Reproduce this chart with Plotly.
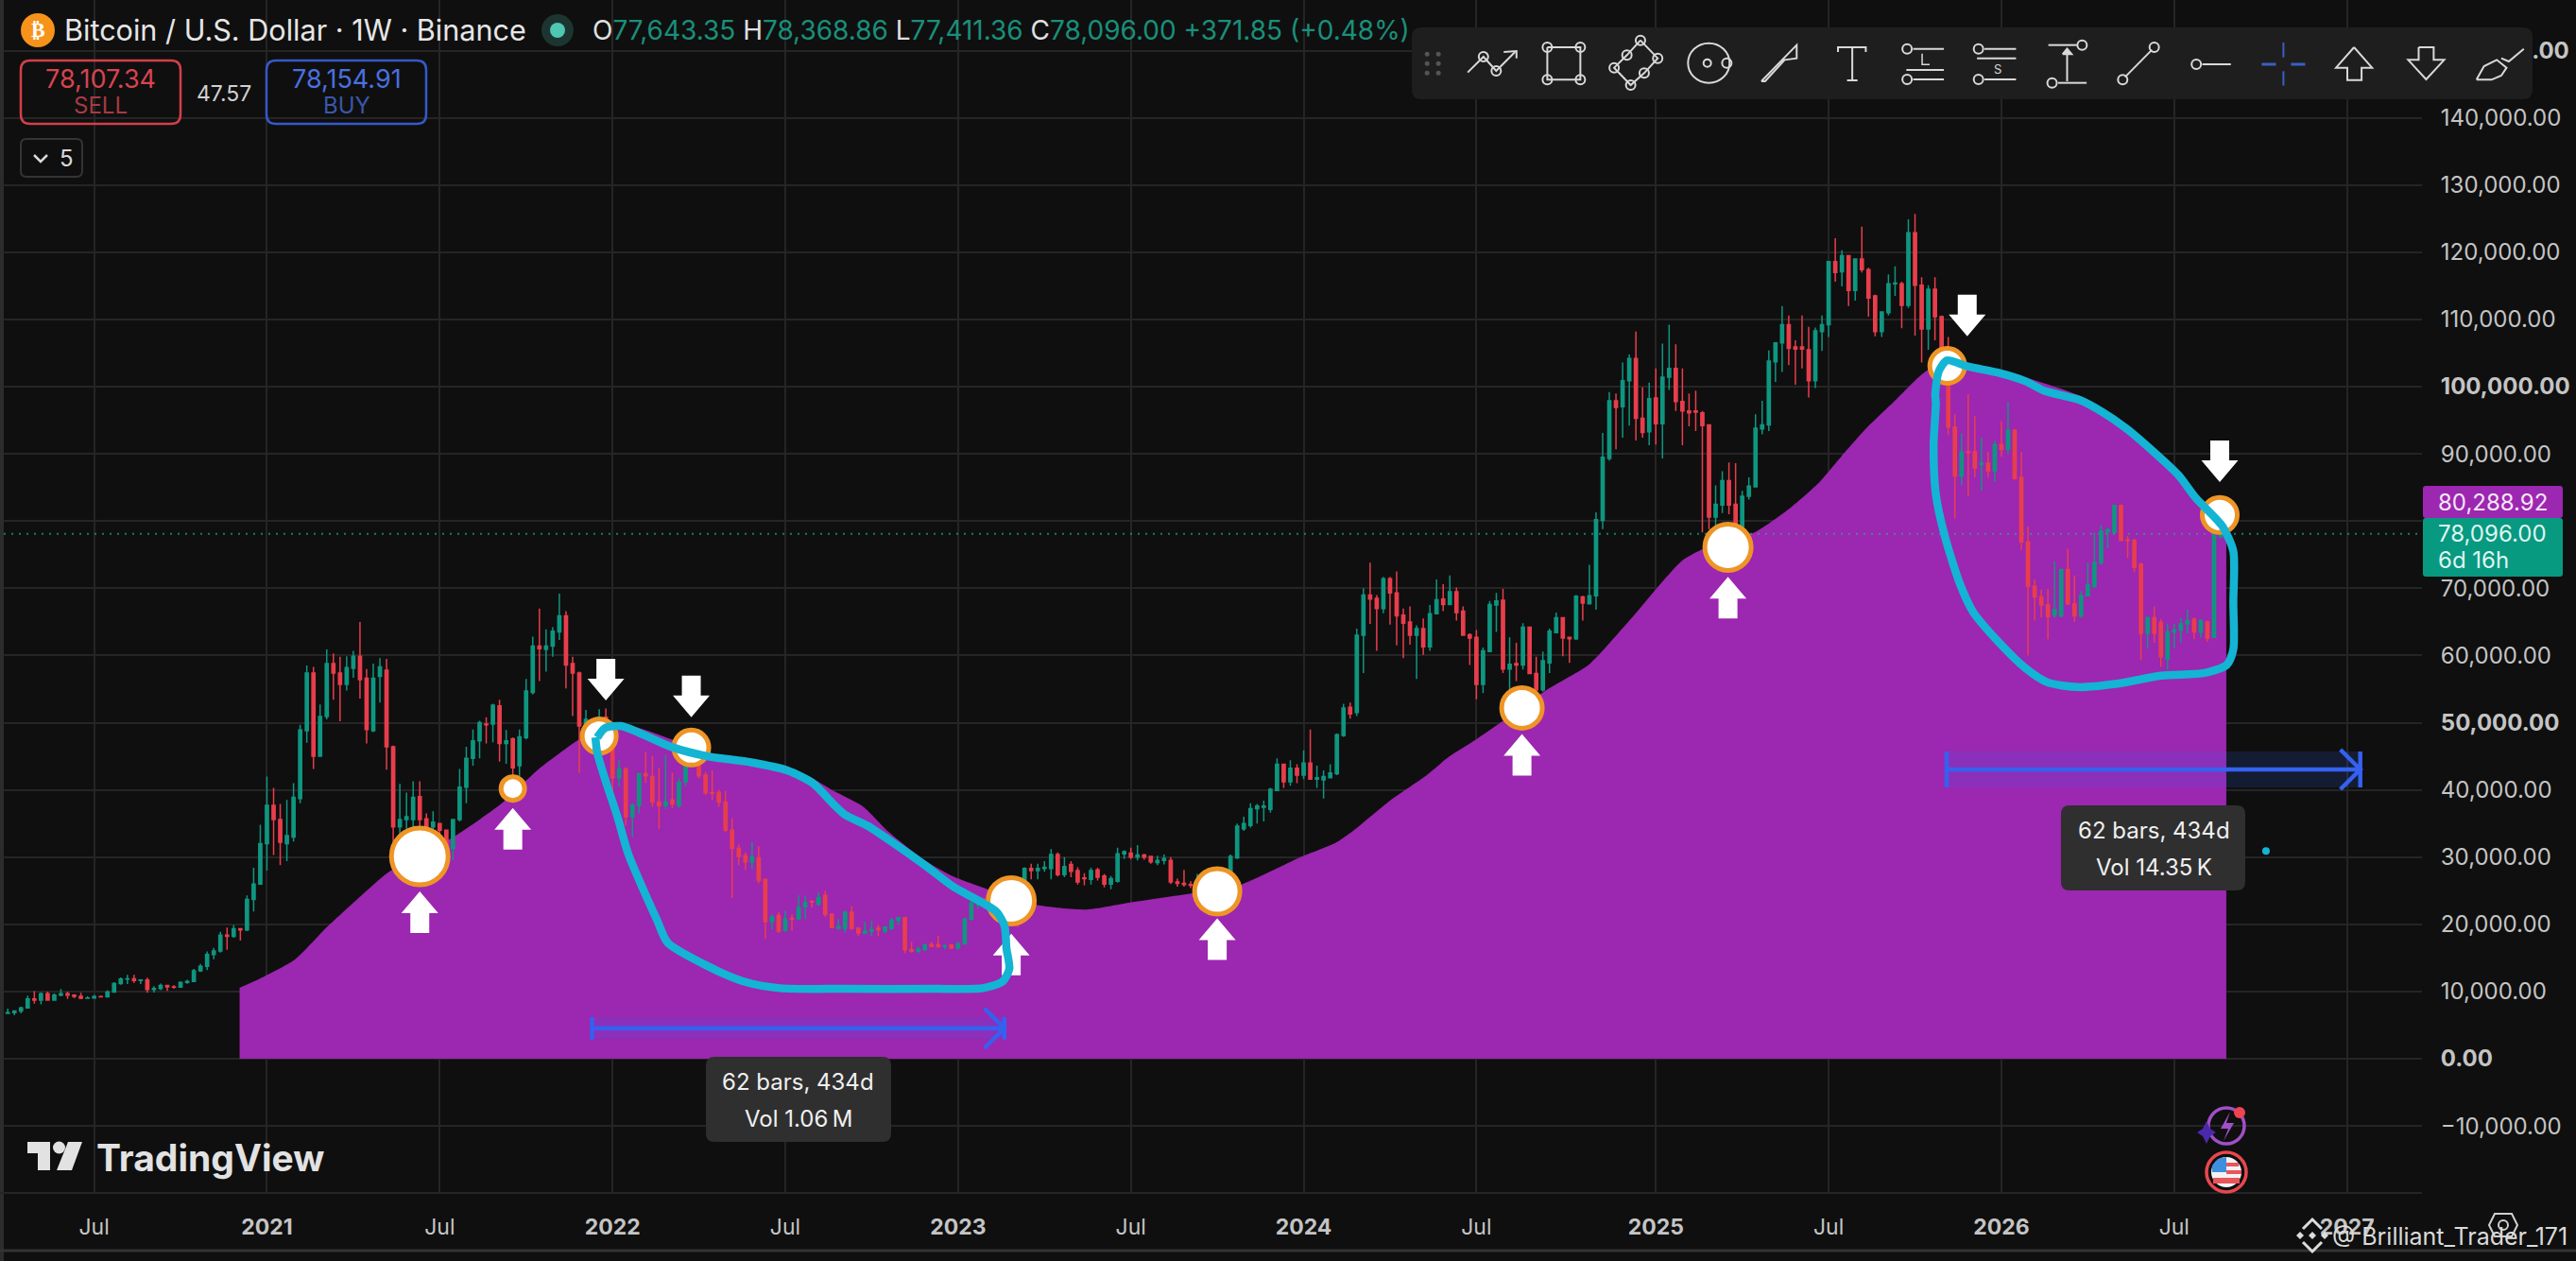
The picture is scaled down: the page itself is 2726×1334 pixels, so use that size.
import pandas as pd
import plotly.graph_objects as go

W, H = 2726, 1334

# weekly candles, thousands of USD, first bar is the week of 2020-04-06
first_bar = "2020-04-06"
opens = [
    6.77, 6.86, 7.12, 7.55, 8.9, 8.72, 9.68, 8.72, 9.45, 9.67,
    9.45, 9.3, 9.0, 9.05, 9.25, 9.2, 9.93, 11.2, 11.85, 11.9,
    11.65, 11.7, 10.3, 10.45, 10.9, 10.7, 10.65, 11.35, 11.5, 13.1,
    13.75, 15.5, 16.05, 18.4, 18.2, 19.35, 19.15, 23.7, 26.0,
    32.0, 37.7, 35.6, 32.0, 33.0, 38.7, 48.8, 57.4, 45.0, 50.9,
    58.8, 57.4, 55.7, 58.1, 59.9, 56.6, 48.8, 56.9, 57.8, 46.4,
    34.5, 35.6, 35.6, 39.0, 35.7, 34.5, 35.0, 34.0, 31.3, 35.6,
    40.4, 44.7, 47.3, 49.8, 49.8, 52.5, 46.9, 47.6, 43.6, 47.8,
    54.5, 61.4, 60.9, 61.4, 63.5, 65.9, 58.8, 57.4, 49.4, 50.5,
    46.7, 50.8, 47.3, 41.8, 43.1, 36.0, 37.7, 42.4, 42.0, 38.2,
    37.7, 38.5, 37.7, 41.2, 46.8, 45.6, 42.2, 39.6, 39.6, 38.2,
    34.0, 31.3, 30.2, 29.3, 29.9, 26.7, 20.4, 21.3, 19.1, 20.9,
    20.8, 22.6, 23.4, 23.0, 24.3, 21.5, 19.4, 19.4, 21.8, 19.4,
    18.7, 19.0, 19.4, 19.0, 19.4, 20.6, 21.0, 16.2, 16.0, 16.3,
    17.0, 17.0, 16.7, 16.9, 16.5, 17.1, 20.8, 22.9, 23.7, 23.3,
    21.8, 24.6, 23.2, 22.4, 20.6, 28.3, 28.0, 28.3, 28.3, 30.4,
    27.4, 28.9, 28.0, 26.9, 26.7, 28.1, 27.2, 26.0, 26.4, 30.5,
    30.6, 30.0, 30.3, 30.1, 29.2, 29.5, 29.5, 26.3, 26.1, 25.9,
    26.0, 26.5, 26.3, 26.9, 27.9, 26.9, 29.9, 34.2, 34.7, 37.2,
    37.4, 37.1, 39.9, 43.8, 41.2, 43.2, 42.2, 44.0, 41.6, 41.5,
    41.8, 42.4, 48.1, 52.3, 51.5, 63.0, 69.0, 68.5, 67.0, 71.4,
    69.3, 66.0, 65.0, 63.0, 64.0, 61.3, 66.2, 68.4, 67.6, 69.5,
    66.6, 63.1, 62.7, 55.7, 60.6, 67.5, 68.2, 58.0, 58.8, 58.6,
    64.2, 57.3, 54.9, 58.9, 63.4, 65.6, 62.7, 62.5, 68.7, 67.7,
    68.9, 80.1, 89.3, 97.9, 97.0, 100.9, 104.2, 95.3, 93.3, 98.3,
    94.5, 101.4, 102.7, 97.8, 96.4, 96.4, 96.1, 94.3, 80.6, 82.4,
    86.0, 82.5, 78.0, 83.7, 85.1, 93.7, 94.3, 103.7, 106.5, 109.2,
    105.9, 105.9, 105.5, 100.9, 108.2, 109.2, 118.6, 117.1, 119.5, 114.3,
    119.0, 117.4, 113.5, 108.2, 111.0, 115.3, 115.3, 112.1, 122.9, 115.1,
    108.6, 114.5, 110.4, 105.7, 94.0, 86.7, 90.3, 90.3, 88.4, 88.6,
    87.5, 91.4, 90.7, 93.5, 86.5, 76.9, 70.3, 68.7, 67.5, 66.0,
    65.9, 72.8, 67.7, 65.9, 68.9, 70.3, 73.8, 78.4, 78.3, 82.3,
    77.2, 77.1, 73.6, 63.3, 65.6, 64.9, 59.5, 63.5, 63.8, 64.7,
    65.4, 63.5, 65.0, 62.7, 77.64335,
]
highs = [
    7.46, 7.2, 7.75, 9.4, 10.07, 9.9, 10.0, 9.74, 10.38, 10.0,
    9.6, 9.8, 9.3, 9.5, 9.4, 10.2, 11.4, 12.1, 12.5, 12.5,
    11.8, 12.05, 10.8, 11.2, 10.95, 10.95, 11.5, 11.75, 13.35, 14.1,
    15.96, 16.5, 18.9, 19.5, 19.9, 19.4, 24.3, 28.4, 34.8,
    42.0, 40.3, 37.9, 38.5, 41.0, 49.7, 58.5, 58.3, 52.7, 60.9,
    60.3, 59.8, 59.9, 60.7, 65.0, 58.0, 58.8, 59.6, 59.5, 46.6,
    40.9, 39.6, 41.3, 41.3, 36.5, 36.8, 35.1, 34.0, 35.6, 43.1,
    46.4, 49.0, 50.3, 50.8, 52.8, 53.4, 48.9, 47.8, 49.0, 56.5,
    62.8, 67.0, 63.9, 64.2, 69.2, 66.6, 59.8, 57.6, 51.9, 50.6,
    52.0, 52.1, 47.9, 44.4, 43.4, 38.0, 42.5, 45.7, 45.0, 43.3,
    45.2, 42.6, 41.7, 47.5, 48.2, 47.1, 42.7, 42.9, 40.0, 39.8,
    35.8, 31.9, 30.7, 32.2, 31.6, 26.8, 21.5, 21.8, 22.0, 21.5,
    24.3, 24.3, 23.6, 24.8, 25.0, 21.7, 20.8, 22.0, 22.7, 19.6,
    20.4, 20.5, 19.9, 19.7, 21.0, 21.1, 21.1, 17.4, 16.7, 17.2,
    17.4, 18.3, 17.0, 17.0, 17.4, 21.0, 23.8, 23.9, 24.0, 23.4,
    25.0, 25.2, 23.9, 22.6, 28.5, 29.0, 29.0, 29.4, 31.2, 30.7,
    30.0, 29.4, 28.5, 27.6, 28.4, 28.4, 27.5, 27.2, 31.4, 31.0,
    31.4, 31.8, 30.5, 30.2, 30.2, 30.4, 30.0, 26.8, 28.1, 26.4,
    27.5, 27.4, 27.0, 28.6, 28.0, 30.4, 35.0, 36.0, 38.0, 37.9,
    38.4, 40.3, 44.7, 43.9, 44.4, 43.8, 45.9, 49.0, 43.6, 42.9,
    43.8, 48.4, 52.8, 53.0, 64.0, 70.0, 73.8, 69.0, 71.7, 71.7,
    72.5, 67.0, 67.3, 64.5, 65.5, 67.5, 71.3, 70.6, 71.9, 70.1,
    67.3, 63.3, 63.8, 61.2, 68.1, 69.3, 69.9, 62.7, 61.9, 64.8,
    64.3, 59.8, 60.6, 64.0, 66.4, 65.6, 62.8, 69.0, 68.9, 73.5,
    81.3, 93.1, 99.2, 99.0, 103.6, 104.8, 108.2, 99.9, 100.6, 102.7,
    106.4, 109.2, 106.3, 102.7, 99.0, 99.4, 96.4, 94.4, 85.3, 87.4,
    88.7, 88.6, 84.5, 86.5, 95.9, 97.9, 105.4, 106.5, 112.0, 110.6,
    106.9, 110.6, 108.9, 108.8, 110.6, 118.6, 122.1, 120.3, 119.6, 119.1,
    123.8, 117.7, 113.7, 111.1, 116.7, 117.9, 115.6, 124.9, 125.7, 116.3,
    115.1, 116.3, 110.6, 107.4, 95.9, 93.0, 98.9, 95.6, 92.4, 90.3,
    91.9, 94.9, 97.7, 93.7, 90.3, 79.2, 71.3, 69.8, 69.9, 74.0,
    72.9, 75.9, 71.9, 69.6, 73.8, 78.3, 79.4, 79.0, 82.3, 82.5,
    77.8, 77.4, 73.8, 65.8, 67.3, 65.4, 64.7, 64.7, 65.6, 66.8,
    65.6, 65.4, 65.2, 78.3, 78.36886,
]
lows = [
    6.75, 6.47, 6.75, 7.5, 8.2, 8.1, 8.8, 8.63, 9.27, 8.9,
    9.0, 8.85, 8.9, 9.0, 9.1, 9.1, 9.9, 11.0, 11.1, 11.3,
    11.1, 9.8, 9.85, 10.2, 10.1, 10.4, 10.55, 11.15, 11.4, 12.9,
    13.2, 14.8, 15.8, 16.2, 18.0, 17.6, 19.0, 21.9, 26.0,
    28.0, 30.3, 28.8, 29.4, 32.3, 38.0, 47.0, 43.1, 44.9, 50.5,
    53.4, 50.2, 54.8, 56.7, 53.6, 46.9, 48.6, 53.0, 43.0, 31.0,
    31.0, 34.2, 34.5, 33.0, 28.8, 32.8, 32.7, 29.8, 29.5, 35.3,
    38.0, 43.6, 44.7, 46.9, 47.1, 44.2, 43.9, 42.2, 42.1, 47.5,
    54.2, 56.2, 57.6, 59.8, 62.3, 55.1, 51.0, 42.5, 47.3, 45.6,
    45.6, 45.7, 39.7, 40.5, 34.7, 33.0, 36.5, 41.0, 37.5, 34.2,
    37.1, 37.3, 37.3, 40.5, 45.0, 41.7, 39.2, 38.5, 37.5, 33.7,
    23.9, 28.8, 28.1, 28.2, 26.1, 17.8, 19.2, 18.7, 18.9, 19.0,
    20.6, 20.8, 22.5, 22.7, 21.1, 19.4, 19.2, 18.7, 19.2, 18.2,
    18.5, 18.3, 18.2, 18.6, 19.1, 19.9, 15.7, 15.8, 15.7, 16.0,
    16.6, 16.5, 16.3, 16.3, 16.2, 17.0, 20.5, 22.3, 22.7, 21.5,
    21.4, 22.8, 21.9, 19.6, 20.4, 26.7, 26.7, 27.8, 26.7, 27.1,
    27.0, 27.0, 25.9, 25.8, 25.9, 26.5, 25.5, 25.2, 26.2, 29.7,
    29.7, 29.5, 29.6, 29.0, 28.8, 28.9, 26.0, 25.6, 25.6, 25.4,
    25.0, 26.1, 26.0, 26.9, 26.5, 26.8, 29.7, 33.9, 34.4, 35.0,
    35.3, 36.6, 39.8, 40.3, 40.6, 41.0, 41.6, 41.5, 40.3, 38.7,
    41.7, 42.2, 47.9, 50.6, 51.0, 57.4, 64.7, 60.7, 66.3, 64.6,
    61.5, 59.6, 61.6, 56.5, 60.1, 60.7, 66.1, 66.6, 67.5, 65.2,
    62.9, 58.6, 53.5, 54.4, 60.5, 63.5, 57.4, 54.9, 56.2, 57.9,
    57.2, 54.6, 54.6, 57.4, 63.3, 59.9, 58.9, 62.3, 65.2, 67.6,
    66.8, 78.8, 89.0, 90.7, 92.4, 94.2, 92.0, 92.4, 91.3, 91.4,
    89.3, 99.5, 96.4, 91.3, 94.1, 93.4, 78.3, 78.8, 77.0, 81.2,
    81.0, 76.0, 74.6, 83.2, 85.0, 92.9, 93.4, 100.7, 102.2, 103.2,
    100.3, 102.7, 98.4, 99.8, 105.3, 107.4, 115.6, 114.9, 112.0, 112.8,
    117.0, 110.4, 107.5, 107.4, 110.6, 113.5, 108.7, 111.7, 107.6, 103.6,
    105.5, 106.9, 104.8, 92.8, 80.4, 85.4, 83.7, 86.5, 84.5, 86.5,
    85.8, 89.6, 90.0, 86.2, 75.7, 60.0, 65.2, 65.6, 62.4, 65.6,
    65.7, 67.5, 65.0, 65.6, 68.9, 70.0, 73.5, 76.0, 78.2, 77.0,
    74.5, 72.4, 59.3, 61.0, 61.9, 58.3, 57.9, 61.0, 61.9, 63.3,
    62.4, 62.6, 62.0, 62.6, 77.41136,
]
closes = [
    6.86, 7.12, 7.55, 8.9, 8.72, 9.68, 8.72, 9.45, 9.67, 9.45,
    9.3, 9.0, 9.05, 9.25, 9.2, 9.93, 11.2, 11.85, 11.9, 11.65,
    11.7, 10.3, 10.45, 10.9, 10.7, 10.65, 11.35, 11.5, 13.1, 13.75,
    15.5, 16.05, 18.4, 18.2, 19.35, 19.15, 23.7, 26.0, 32.0,
    37.7, 35.6, 32.2, 33.2, 38.9, 48.9, 57.4, 45.0, 50.9, 58.8,
    57.4, 55.7, 58.2, 59.9, 56.4, 49.0, 56.6, 58.3, 46.4, 34.5,
    35.6, 36.0, 38.9, 35.6, 34.5, 35.2, 34.0, 32.0, 35.6, 40.4,
    44.7, 47.3, 50.0, 49.7, 52.6, 46.9, 47.3, 43.3, 47.9, 54.7,
    61.4, 61.0, 61.4, 63.6, 65.9, 58.6, 57.4, 49.5, 50.5, 46.7,
    50.8, 47.3, 41.8, 43.1, 36.0, 37.7, 42.4, 42.1, 38.2, 37.7,
    38.2, 37.9, 41.1, 46.8, 45.6, 42.1, 39.6, 39.5, 38.2, 34.0,
    31.3, 30.1, 29.3, 30.0, 26.5, 20.4, 21.1, 19.0, 20.8, 20.8,
    22.5, 23.2, 23.3, 24.0, 21.5, 19.5, 19.7, 21.8, 19.4, 18.7,
    19.0, 19.2, 19.2, 19.6, 20.6, 21.0, 16.2, 16.0, 16.3, 16.9,
    16.7, 16.7, 16.8, 16.5, 17.1, 20.8, 23.2, 23.7, 23.3, 21.8,
    24.6, 23.2, 22.4, 20.6, 28.3, 28.0, 28.3, 28.5, 30.4, 27.4,
    28.6, 27.9, 26.3, 26.8, 28.0, 27.0, 26.0, 26.8, 30.5, 30.8,
    30.0, 30.3, 30.0, 29.3, 29.5, 29.8, 26.3, 26.1, 25.9, 25.8,
    26.5, 26.3, 26.9, 27.9, 26.9, 30.1, 34.6, 35.0, 37.2, 37.6,
    37.6, 40.1, 43.8, 41.2, 43.2, 42.2, 44.0, 41.6, 41.8, 42.0,
    42.5, 48.2, 52.2, 51.3, 63.0, 69.0, 68.4, 67.0, 71.4, 69.3,
    65.9, 64.8, 63.0, 64.0, 61.3, 66.2, 68.3, 67.6, 69.5, 66.4,
    63.0, 62.6, 55.7, 60.7, 67.6, 68.1, 58.0, 58.7, 58.6, 64.2,
    57.3, 54.9, 59.2, 63.6, 65.6, 62.6, 62.5, 68.8, 67.8, 68.9,
    80.2, 89.5, 97.9, 96.9, 100.9, 104.2, 95.3, 93.2, 98.2, 94.5,
    101.4, 102.7, 97.8, 96.4, 96.1, 96.2, 94.2, 80.6, 82.5, 86.0,
    82.4, 78.0, 83.7, 85.2, 93.8, 94.3, 103.8, 106.5, 109.2, 105.7,
    105.6, 105.6, 100.9, 108.3, 109.2, 118.6, 117.0, 119.5, 114.3, 119.0,
    117.4, 113.2, 108.2, 111.1, 115.3, 115.4, 112.1, 122.9, 115.1, 108.6,
    114.5, 110.4, 105.7, 94.0, 86.7, 90.3, 90.2, 87.9, 88.6, 87.5,
    91.4, 90.7, 93.5, 86.3, 76.9, 70.3, 68.7, 67.5, 65.8, 66.8,
    72.8, 67.7, 65.9, 68.9, 70.5, 73.8, 78.5, 78.7, 82.3, 77.1,
    77.1, 73.1, 63.3, 65.6, 63.3, 59.8, 63.5, 63.8, 64.7, 65.2,
    63.5, 65.2, 62.6, 77.8, 78.096,
]

# everything else on the chart is placed in days after this Monday + price in thousands
base_date = pd.Timestamp("2021-01-04")

# purple moving average area
ma_days = [-28.8, -10.5, 29.9, 61.2, 96.6, 127.6, 194.3, 247.4, 287.2, 327.6, 347.9, 380.7,
           464.3, 533, 570.9, 597.7, 628.2, 654.5, 692.9, 723.1, 757.7, 810.7, 863.5, 907.9,
           974.6, 1027.7, 1054.6, 1085.5, 1125.3, 1143.2, 1183, 1218.9, 1245.7, 1272.6, 1301.4,
           1348.2, 1392, 1414.5, 1440.8, 1463.4, 1490.6, 1521.1, 1566.9, 1605, 1635.4, 1658.3,
           1684.7, 1715.5, 1742.1, 1765, 1791.7, 1856.4, 1913.6, 1955.4, 1986.1, 2032, 2063.9]
ma_prices = [10.55, 11.7, 14.8, 19.3, 23.9, 27.7, 32.8, 38.0, 43.2, 47.4, 49.0, 49.6,
             45.6, 43.8, 42.0, 39.8, 37.5, 33.8, 29.5, 27.1, 25.3, 22.9, 22.2, 23.2,
             24.6, 26.0, 27.7, 29.8, 32.1, 33.8, 38.4, 41.9, 45.0, 47.4, 50.2,
             54.9, 58.6, 61.9, 66.1, 69.9, 74.1, 76.4, 78.3, 82.0, 85.8, 89.6,
             93.8, 98.0, 101.7, 103.8, 103.4, 101.2, 98.4, 94.6, 91.0, 84.0, 80.289]

# white circles with orange ring
circle_days = [161, 259, 350, 447, 784, 1001, 1322, 1539, 1770, 2057]
circle_prices = [30.1, 40.2, 48.0, 46.3, 23.5, 24.9, 52.2, 76.1, 103.1, 80.9]
circle_sizes = [60, 25, 36, 37, 49, 48, 43, 49, 37, 37]

# white block arrows, tip position
up_days = [161, 259, 784, 1001, 1322, 1539]
up_prices = [24.9, 37.3, 18.6, 20.9, 48.3, 71.7]
down_days = [357, 447, 1791, 2057]
down_prices = [53.3, 50.8, 107.5, 85.8]

# hand drawn cyan outlines
cyan1_days = [348, 356, 373, 392, 426, 464, 510, 548, 575, 598, 609, 632, 662, 693, 723, 754, 769,
              777, 779, 782, 775, 754, 704, 609, 540.5, 502, 464, 422, 411, 396, 380.5, 369, 358,
              348, 346]
cyan1_prices = [47.8, 49.2, 49.5, 48.5, 46.4, 45.0, 44.1, 42.9, 41.0, 37.7, 36.3, 34.7, 31.9, 28.8,
                25.6, 23.2, 21.8, 19.7, 16.4, 13.4, 11.5, 10.5, 10.4, 10.4, 10.5, 11.5, 13.8, 17.3,
                20.6, 25.3, 30.5, 36.1, 40.8, 45.5, 47.8]
cyan2_days = [1769.6, 1791.7, 1825.9, 1852.6, 1871.6, 1909.6, 1932.5, 1958.4, 1995.2, 2013.7, 2032,
              2059.9, 2071.3, 2071.3, 2071.3, 2064.4, 2041, 1995.2, 1949.1, 1907.6, 1875.5, 1852.4,
              1824.7, 1797.1, 1783.2, 1767.3, 1757.9, 1755.6, 1757.9, 1757.3, 1761.1, 1769.6]
cyan2_prices = [103.9, 103.0, 102.0, 100.8, 99.4, 98.0, 96.3, 93.8, 89.3, 86.8, 83.4,
                79.2, 75.5, 67.9, 60.9, 58.6, 57.4, 57.0, 55.8, 55.3, 56.0, 58.1,
                61.9, 66.5, 70.7, 77.8, 84.0, 91.4, 97.5, 98.9, 102.3, 103.9]
cyan_dot_day = [2105.7]
cyan_dot_price = [30.9]

# date range measure tools
ruler_starts = [342.4, 1769.3]
ruler_ends = [776.7, 2205]
ruler_prices = [4.54, 43.04]

# axis ticks
x_tick_dates = ["2020-07-06", "2021-01-04", "2021-07-05", "2022-01-03", "2022-07-04", "2023-01-02",
                "2023-07-03", "2024-01-01", "2024-07-01", "2025-01-06", "2025-07-07", "2026-01-05",
                "2026-07-06", "2027-01-04"]
x_tick_text = ["Jul", "<b>2021</b>", "Jul", "<b>2022</b>", "Jul", "<b>2023</b>", "Jul", "<b>2024</b>",
               "Jul", "<b>2025</b>", "Jul", "<b>2026</b>", "Jul", "<b>2027</b>"]
y_tick_vals = [-10, 0, 10, 20, 30, 40, 50, 60, 70, 80, 90, 100, 110, 120, 130, 140, 150]
# the 80,000 label sits behind the purple price tag
y_tick_text = ["\u221210,000.00", "<b>0.00</b>", "10,000.00", "20,000.00", "30,000.00", "40,000.00",
               "<b>50,000.00</b>", "60,000.00", "70,000.00", "", "90,000.00",
               "<b>100,000.00</b>", "110,000.00", "120,000.00", "130,000.00", "140,000.00",
               "<b>150,000.00</b>"]
last_close = 78.096

BG = "#0f0f0f"
GRID = "#252525"
PURPLE = "#9c27b0"
GREEN = "#0f9680"
RED = "#e83e4c"
CYAN = "#14b4d4"
BLUE = "#3461f0"
ORANGE = "#ee9526"
FONT = "Inter"

DAYS_PER_PX = 0.99537
K_PER_PX = 0.14065


def to_dates(days):
    return [None if d is None else base_date + pd.to_timedelta(d, unit="D") for d in days]


def k(values):
    return [None if v is None else v * 1000 for v in values]


def arrow_polys(days, prices, direction):
    xs, ys = [], []
    for d, p in zip(days, prices):
        # 39px wide head, 44px long in total
        dx = [0, 19.5, 10, 10, -10, -10, -19.5, 0]
        dy = [0, 23, 23, 44, 44, 23, 23, 0]
        xs += [d + v * DAYS_PER_PX for v in dx] + [None]
        ys += [p - direction * v * K_PER_PX for v in dy] + [None]
    return xs, ys


def ruler_lines(start, end, price, cap):
    hd = 21 * DAYS_PER_PX
    hy = 21 * K_PER_PX
    cy = cap * K_PER_PX
    xs = [start, end, None, start, start, None, end, end, None, end - hd, end, end - hd]
    ys = [price, price, None, price - cy, price + cy, None, price - cy, price + cy, None,
          price + hy, price, price - hy]
    return xs, ys


x_left = base_date + pd.to_timedelta(-277.2, unit="D")
x_right = base_date + pd.to_timedelta(2270, unit="D")
y_bottom, y_top = -19970, 157530

fig = go.Figure()

# base subplot: area goes under the candles
fig.add_trace(go.Scatter(x=to_dates(ma_days), y=k(ma_prices), mode="lines", fill="tozeroy",
                         fillcolor=PURPLE, line=dict(color=PURPLE, width=0, shape="spline", smoothing=0.6),
                         hoverinfo="skip"))
fig.add_trace(go.Scatter(x=[x_left, x_right], y=[last_close * 1000, last_close * 1000], mode="lines",
                         line=dict(color="rgba(30,180,150,0.65)", width=2, dash="2px,6px"), hoverinfo="skip"))

# ruler bands
for s, e, p, half in zip(ruler_starts, ruler_ends, ruler_prices, [11.5, 19]):
    hk = half * K_PER_PX
    fig.add_trace(go.Scatter(x=to_dates([s, e, e, s, s]), y=k([p - hk, p - hk, p + hk, p + hk, p - hk]),
                             mode="lines", fill="toself", fillcolor="rgba(52,97,240,0.16)",
                             line=dict(width=0), hoverinfo="skip"))

dates = pd.date_range(first_bar, periods=len(opens), freq="7D")
fig.add_trace(go.Candlestick(x=dates, open=k(opens), high=k(highs), low=k(lows), close=k(closes),
                             xaxis="x2", yaxis="y2", whiskerwidth=0,
                             increasing=dict(line=dict(color=GREEN, width=1.5), fillcolor=GREEN),
                             decreasing=dict(line=dict(color=RED, width=1.5), fillcolor=RED),
                             hoverinfo="skip"))

ux, uy = arrow_polys(up_days, up_prices, 1)
dx, dy = arrow_polys(down_days, down_prices, -1)
fig.add_trace(go.Scatter(x=to_dates(ux + dx), y=k(uy + dy), mode="lines", fill="toself", fillcolor="white",
                         line=dict(width=0), xaxis="x2", yaxis="y2", hoverinfo="skip"))
fig.add_trace(go.Scatter(x=to_dates(circle_days), y=k(circle_prices), mode="markers",
                         marker=dict(color="white", size=circle_sizes, opacity=1,
                                     line=dict(color=ORANGE, width=5)),
                         xaxis="x2", yaxis="y2", hoverinfo="skip"))

for cd, cp in [(cyan1_days, cyan1_prices), (cyan2_days, cyan2_prices)]:
    fig.add_trace(go.Scatter(x=to_dates(cd), y=k(cp), mode="lines",
                             line=dict(color=CYAN, width=8.5, shape="spline", smoothing=0.7),
                             xaxis="x2", yaxis="y2", hoverinfo="skip"))
fig.add_trace(go.Scatter(x=to_dates(cyan_dot_day), y=k(cyan_dot_price), mode="markers",
                         marker=dict(color=CYAN, size=8), xaxis="x2", yaxis="y2", hoverinfo="skip"))

for s, e, p, cap in zip(ruler_starts, ruler_ends, ruler_prices, [12, 19]):
    rx, ry = ruler_lines(s, e, p, cap)
    fig.add_trace(go.Scatter(x=to_dates(rx), y=k(ry), mode="lines", line=dict(color=BLUE, width=4.5),
                             xaxis="x2", yaxis="y2", hoverinfo="skip"))


# --- page furniture, placed in page pixels ---
shapes = []
notes = []


def pt(x, y):
    return f"{x / W:.5f},{1 - y / H:.5f}"


def path(d, color=None, width=0, fill=None):
    shapes.append(dict(type="path", xref="paper", yref="paper", path=d,
                       line=dict(color=color or "rgba(0,0,0,0)", width=width),
                       fillcolor=fill or "rgba(0,0,0,0)"))


def poly(points, color="#d9d9d9", width=2, fill=None, closed=False):
    d = "M" + " L".join(pt(x, y) for x, y in points)
    path(d + (" Z" if closed else ""), color, width, fill)


def ring(cx, cy, rx, ry=None, color="#d9d9d9", width=2, fill=None):
    ry = ry or rx
    shapes.append(dict(type="circle", xref="paper", yref="paper",
                       x0=(cx - rx) / W, x1=(cx + rx) / W, y0=1 - (cy + ry) / H, y1=1 - (cy - ry) / H,
                       line=dict(color=color or "rgba(0,0,0,0)", width=width),
                       fillcolor=fill or "rgba(0,0,0,0)"))


def rrect(x0, y0, x1, y1, r, color=None, width=0, fill=None):
    d = (f"M{pt(x0 + r, y0)} L{pt(x1 - r, y0)} Q{pt(x1, y0)} {pt(x1, y0 + r)} "
         f"L{pt(x1, y1 - r)} Q{pt(x1, y1)} {pt(x1 - r, y1)} L{pt(x0 + r, y1)} "
         f"Q{pt(x0, y1)} {pt(x0, y1 - r)} L{pt(x0, y0 + r)} Q{pt(x0, y0)} {pt(x0 + r, y0)} Z")
    path(d, color, width, fill)


def label(x, y, text, size, color="#d6d6d6", anchor="left", family=FONT):
    notes.append(dict(xref="paper", yref="paper", x=x / W, y=1 - y / H, text=text, showarrow=False,
                      xanchor=anchor, yanchor="middle", borderpad=0,
                      font=dict(size=size, color=color, family=family)))


# panel borders
poly([(0, 0), (0, H)], "#2c2c2c", 8)
poly([(0, 1262), (2563, 1262)], GRID, 2)
poly([(0, 1323), (W, 1323)], "#333333", 3)

# header
ring(40, 32, 18, color=None, width=0, fill="#f7931a")
label(40, 32, "<b>\u20bf</b>", 22, "white", "center", "DejaVu Sans")
label(67, 32, "Bitcoin / U.S. Dollar \u00b7 1W \u00b7 Binance", 30.6, "#e6e6e6")
ring(590, 32, 17, color=None, width=0, fill="#1c3531")
ring(590, 32, 8, color=None, width=0, fill="#4fc7b3")
ohlc_green = "#1a8f7b"
label(626, 32, "O<span style='color:%s'>77,643.35</span> H<span style='color:%s'>78,368.86</span> "
      "L<span style='color:%s'>77,411.36</span> C<span style='color:%s'>78,096.00</span> "
      "<span style='color:%s'>+371.85 (+0.48%%)</span>" % ((ohlc_green,) * 5), 28, "#e0e0e0")

rrect(22, 64, 191, 131, 10, "#d23f4b", 2.5)
label(106.5, 84, "78,107.34", 27, "#d9434f", "center")
label(106.5, 112, "SELL", 24, "#a83a44", "center")
label(236.5, 99, "47.57", 23, "#d0d0d0", "center")
rrect(282, 64, 451, 131, 10, "#3559c9", 2.5)
label(366.5, 84, "78,154.91", 27, "#4a70e0", "center")
label(366.5, 112, "BUY", 24, "#3a57ab", "center")
rrect(22, 147, 87, 187, 6, "#343434", 2)
poly([(36, 164), (43, 171), (50, 164)], "#d9d9d9", 2.5)
label(70, 168, "5", 24, "#d9d9d9", "center")

# drawing toolbar
rrect(1494, 29, 2680, 105, 10, fill="#1e1e1e")


def tb(zx, zy):
    return 1480 + zx / 1.258, zy / 3


def tline(*pts, **kw):
    poly([tb(*p) for p in pts], **kw)


def tdot(zx, zy, r=5):
    x, y = tb(zx, zy)
    ring(x, y, r)


for gx in (38, 53):
    for gy in (172, 202, 232):
        x, y = tb(gx, gy)
        ring(x, y, 2.5, color=None, width=0, fill="#555555")
tline((92, 230), (113, 180), (130, 225), (155, 165))
tline((140, 165), (157, 162), (157, 185))
tdot(113, 180)
tdot(130, 225)
tline((198, 150), (242, 150), (242, 253), (198, 253), (198, 150))
for p in [(198, 150), (242, 150), (198, 253), (242, 253)]:
    tdot(*p)
tline((322, 128), (345, 185), (327, 232), (309, 270), (287, 215), (304, 175), (322, 128))
for p in [(322, 128), (345, 185), (327, 232), (309, 270), (287, 215), (304, 175)]:
    tdot(*p)
ring(*tb(413, 200), 22, 21)
tdot(411, 200, 4)
tdot(437, 200, 5)
tline((483, 258), (518, 172), (530, 143), (530, 185), (514, 190), (488, 258), (483, 258))
tline((585, 165), (585, 150), (622, 150), (622, 165))
tline((604, 150), (604, 255))
tline((597, 255), (611, 255))
tline((685, 155), (726, 155))
tline((676, 222), (726, 222))
tline((685, 252), (726, 252))
tline((697, 170), (697, 205), (707, 205), width=1.5)
tdot(677, 155)
tdot(677, 252)
tline((780, 155), (822, 155))
tline((770, 185), (822, 185))
tline((780, 252), (822, 252))
label(*tb(797, 220), "S", 13, "#d9d9d9", "center")
tdot(772, 155)
tdot(772, 252)
tline((865, 143), (903, 143))
tline((878, 263), (916, 263))
tline((890, 165), (890, 258))
tline((884, 172), (890, 155), (896, 172), (884, 172), fill="#d9d9d9")
tdot(910, 143)
tdot(870, 263)
tline((1003, 158), (967, 245))
tdot(1006, 150)
tdot(964, 253)
tline((1070, 204), (1108, 204))
tdot(1062, 204)
tline((1178, 135), (1178, 182), color="#3a5fc4")
tline((1178, 226), (1178, 272), color="#3a5fc4")
tline((1149, 204), (1168, 204), color="#3a5fc4", width=3)
tline((1188, 204), (1207, 204), color="#3a5fc4", width=3)
tline((1272, 150), (1296, 215), (1282, 215), (1282, 254), (1263, 254), (1263, 215), (1248, 215), (1272, 150))
tline((1358, 150), (1378, 150), (1378, 190), (1392, 190), (1368, 252), (1344, 190), (1358, 190), (1358, 150))
tline((1435, 253), (1445, 210), (1462, 190), (1475, 215), (1468, 240), (1455, 253), (1435, 253))
tline((1468, 185), (1478, 195), (1498, 155))

# price tags on the axis
rrect(2564, 514, 2712, 548, 3, fill=PURPLE)
label(2579, 531, "80,288.92", 24, "#f5e6f8")
rrect(2564, 548, 2712, 610, 3, fill="#089981")
label(2579, 564, "78,096.00", 24, "#dff5f0")
label(2579, 592, "6d 16h", 24, "#dff5f0")

# ruler tooltips
rrect(747, 1118, 943, 1208, 9, fill="#2f2f2f")
label(845, 1144, "62 bars, 434d", 24, "#f0f0f0", "center")
label(845, 1183, "Vol 1.06\u2009M", 24, "#f0f0f0", "center")
rrect(2181, 852, 2376, 942, 9, fill="#2f2f2f")
label(2279, 878, "62 bars, 434d", 24, "#f0f0f0", "center")
label(2279, 917, "Vol 14.35\u2009K", 24, "#f0f0f0", "center")

# TradingView logo
poly([(29, 1208), (53, 1208), (53, 1238), (40, 1238), (40, 1220), (29, 1220)], "#e2e2e2", 0, "#e2e2e2", True)
ring(62.5, 1214, 6.5, color=None, width=0, fill="#e2e2e2")
poly([(72, 1208), (87, 1208), (76, 1238), (60, 1238)], "#e2e2e2", 0, "#e2e2e2", True)
label(101, 1224, "<b>TradingView</b>", 39, "#e2e2e2")

# chart event icons
ring(2356, 1191, 19, color="#a04fc8", width=3.5)
poly([(2360, 1176), (2350, 1194), (2358, 1194), (2353, 1207), (2364, 1188), (2356, 1188)], "#a04fc8", 0, "#a04fc8", True)
ring(2370, 1177, 6, color=None, width=0, fill="#ee4450")
poly([(2335, 1186), (2339, 1194), (2345, 1198), (2339, 1202), (2335, 1210), (2331, 1202), (2325, 1198), (2331, 1194)],
     "#4a2aa8", 0, "#4a2aa8", True)
ring(2356, 1240, 21, color="#e8474f", width=3.5, fill="#0f0f0f")
ring(2356, 1240, 16, color=None, width=0, fill="#f2f2f2")
poly([(2343, 1232), (2369, 1232)], "#e9555b", 4)
poly([(2356, 1240), (2372, 1240)], "#e9555b", 4)
poly([(2342, 1249), (2370, 1249)], "#e9555b", 6)
poly([(2341, 1240), (2341, 1233), (2347, 1226), (2356, 1224), (2356, 1240)], "#3f8fe0", 0, "#3f8fe0", True)

# settings hexagon and watermark
poly([(2640, 1284), (2658, 1284), (2664, 1296), (2658, 1308), (2640, 1308), (2634, 1296)], "#d0d0d0", 2, closed=True)
ring(2649, 1296, 5, color="#d0d0d0", width=2)
poly([(2437, 1300), (2447, 1290), (2457, 1300)], "#dcdcdc", 3)
poly([(2437, 1314), (2447, 1324), (2457, 1314)], "#dcdcdc", 3)
for ox in (-13, 0, 13):
    poly([(2447 + ox - 4, 1307), (2447 + ox, 1303), (2447 + ox + 4, 1307), (2447 + ox, 1311)],
         "#dcdcdc", 0, "#dcdcdc", True)
label(2467, 1308, "@ Brilliant_Trader_171", 25, "#dadada")

common_x = dict(type="date", range=[x_left, x_right], domain=[4 / W, 2563 / W])
common_y = dict(range=[y_bottom, y_top], domain=[1 - 1262 / H, 1])

fig.update_layout(
    width=W, height=H, margin=dict(l=0, r=0, t=0, b=0), autosize=False,
    paper_bgcolor=BG, plot_bgcolor=BG, showlegend=False, boxgap=0.35,
    font=dict(family=FONT, color="#c4c4c4"),
    xaxis=dict(**common_x, tickmode="array", tickvals=x_tick_dates, ticktext=x_tick_text,
               tickfont=dict(size=23, color="#c4c4c4"), ticks="outside", ticklen=15,
               tickcolor="rgba(0,0,0,0)", showgrid=True, gridcolor=GRID, gridwidth=1.5,
               zeroline=False, showline=False),
    yaxis=dict(**common_y, side="right", tickmode="array", tickvals=[v * 1000 for v in y_tick_vals],
               ticktext=y_tick_text, tickfont=dict(size=24, color="#c4c4c4"), ticks="outside",
               ticklen=14, tickcolor="rgba(0,0,0,0)", showgrid=True, gridcolor=GRID, gridwidth=2,
               zeroline=False, showline=False),
    xaxis2=dict(**common_x, overlaying="x", anchor="y2", visible=False,
                rangeslider=dict(visible=False)),
    yaxis2=dict(**common_y, overlaying="y", anchor="x2", visible=False),
    shapes=shapes,
    annotations=notes,
)

fig.write_html("out.html", config=dict(displayModeBar=False),
               post_script="document.body.style.margin='0';document.body.style.overflow='hidden';")
